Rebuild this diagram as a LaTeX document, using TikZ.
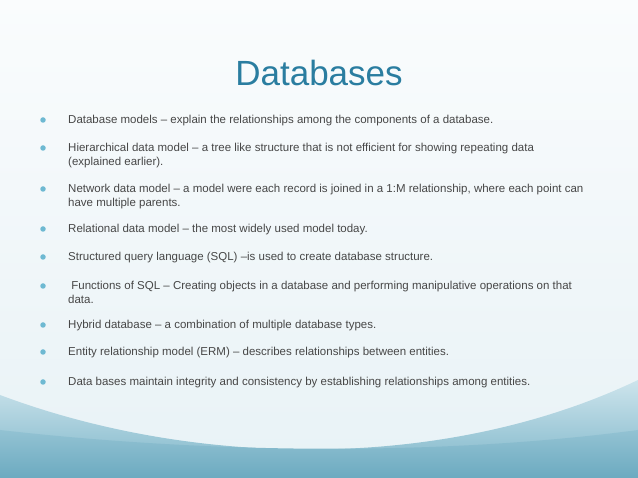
\documentclass[tikz,border=0pt]{standalone}
\usepackage{fontspec}
\setmainfont{Liberation Sans}
\definecolor{tealA}{RGB}{122,180,200}
\definecolor{tealB}{RGB}{205,228,236}
\definecolor{tealC}{RGB}{108,170,192}
\definecolor{bgtop}{RGB}{250,252,253}
\definecolor{bgbot}{RGB}{232,242,246}
\definecolor{titlec}{RGB}{42,125,160}
\definecolor{bulc}{RGB}{110,185,210}
\begin{document}
\begin{tikzpicture}[x=1pt,y=-1pt,
  txt/.style={anchor=north west,inner sep=0pt,align=left,font=\fontsize{11.5}{14}\selectfont,text=black!72},
  bul/.style={circle,fill=bulc,inner sep=0pt,minimum size=5.5pt}]
\useasboundingbox (0,0) rectangle (638,478);
\shade[top color=bgtop,bottom color=bgbot] (0,0) rectangle (638,478);
\shade[top color=tealB,bottom color=tealA]
  (0,395) .. controls (200,470) and (450,470) .. (638,380) -- (638,478) -- (0,478) -- cycle;
\shade[top color=tealA!70!tealB,bottom color=tealC]
  (0,430) .. controls (220,455) and (450,455) .. (638,430) -- (638,478) -- (0,478) -- cycle;
\node[inner sep=0pt,font=\fontsize{35}{38}\selectfont,text=titlec] (title) at (319,73) {Databases};
\foreach \y/\t [count=\i] in {
 115/{Database models -- explain the relationships among the components of a database.},
 143/{Hierarchical data model -- a tree like structure that is not efficient for showing repeating data\\(explained earlier).},
 184/{Network data model -- a model were each record is joined in a 1:M relationship, where each point can\\have multiple parents.},
 224/{Relational data model -- the most widely used model today.},
 252/{Structured query language (SQL) --is used to create database structure.},
 281/{\ Functions of SQL -- Creating objects in a database and performing manipulative operations on that\\data.},
 320/{Hybrid database -- a combination of multiple database types.},
 347/{Entity relationship model (ERM) -- describes relationships between entities.},
 377/{Data bases maintain integrity and consistency by establishing relationships among entities.}}
{
  \node[bul] (b\i) at (43,\y+5) {};
  \node[txt] (t\i) at (68,\y) {\t};
}
\end{tikzpicture}
\end{document}
